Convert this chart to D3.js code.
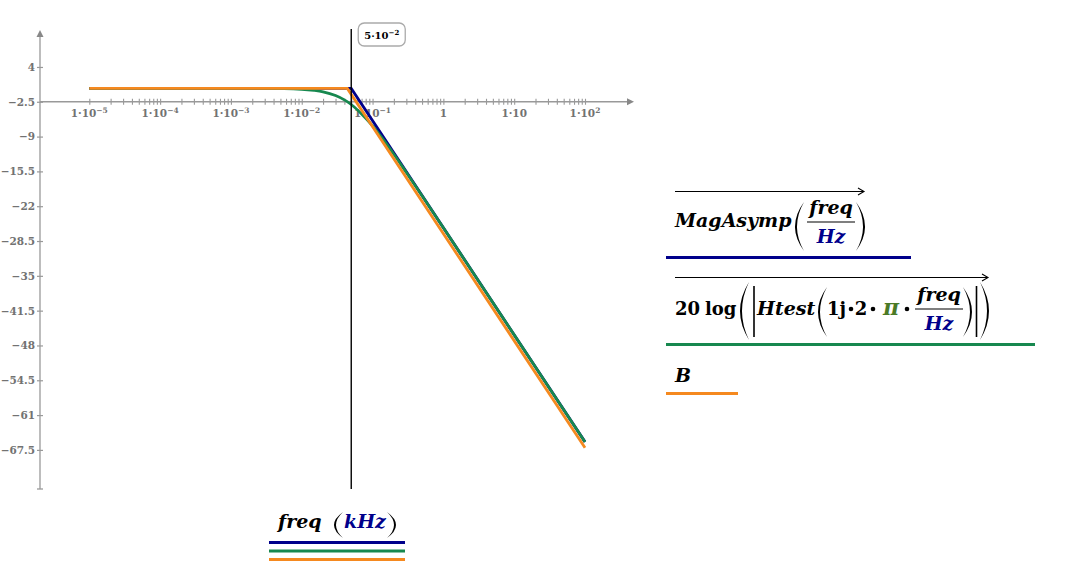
<!DOCTYPE html>
<html lang="en">
  <head>
    <meta charset="utf-8" />
    <script src="https://d3js.org/d3.v7.min.js"></script>
    <style>
      body { margin: 0; background: #fff; }
      .tick-lbl { font-family: "DejaVu Serif", serif; font-weight: bold; fill: #727272; }
      .math { font-family: "DejaVu Serif", serif; font-weight: bold; font-style: italic; }
      .upright { font-style: normal; }
    </style>
  </head>
  <body>
    <svg id="chart" width="1067" height="576"></svg>
    <script>
      // ---- data ----
      const yTicks = [4, -2.5, -9, -15.5, -22, -28.5, -35, -41.5, -48, -54.5, -61, -67.5];
      const xMajor = [1e-5, 1e-4, 1e-3, 1e-2, 1e-1, 1, 10, 100];
      const xMajorLabels = [["1·10", "−5"], ["1·10", "−4"], ["1·10", "−3"], ["1·10", "−2"],
                            ["1·10", "−1"], ["1", ""], ["1·10", ""], ["1·10", "2"]];
      const markerFreq = 0.05;

      // MagAsymp (blue)
      const asympFreq = [1e-5, 0.05, 100];
      const asympDb = [0, 0, -66.0];
      // 20 log|Htest| (green)
      const htestFreq = [1e-5, 1e-4, 1e-3, 3e-3, 0.01, 0.015, 0.02, 0.03, 0.04, 0.05, 0.07, 0.1,
                         0.15, 0.2, 0.3, 0.5, 0.7, 1, 2, 5, 10, 30, 100];
      const htestDb = [0, 0, -0.002, -0.016, -0.17, -0.38, -0.64, -1.34, -2.15, -3.01, -4.77, -6.99,
                       -10.0, -12.3, -15.7, -20.04, -22.95, -26.03, -32.04, -40.0, -46.02, -55.56, -66.02];
      // B (orange)
      const bFreq = [1e-5, 0.044, 100];
      const bDb = [0, 0, -67.1];

      const colBlue = "#00008b", colGreen = "#17884f", colOrange = "#f5891f", colPi = "#4b7a26";

      const svg = d3.select("svg#chart");
      const axisX0 = 40, axisXEnd = 634;
      const x = d3.scaleLog().domain([1e-5, 100]).range([89.3, 585]);
      const y = d3.scaleLinear().domain([-74.8, 10.9]).range([489, 30]);
      const axisY = y(-2.5);
      const axisCol = "#999";

      let axes = svg.append("g").attr("id", "axes");

      // y axis
      axes.append("line").attr("x1", axisX0).attr("x2", axisX0)
        .attr("y1", y.range()[1] + 6).attr("y2", y.range()[0])
        .attr("stroke", axisCol).attr("stroke-width", 1.3);
      axes.append("path")
        .attr("d", `M${axisX0},${y.range()[1]} L${axisX0 - 3.5},${y.range()[1] + 7} L${axisX0 + 3.5},${y.range()[1] + 7} Z`)
        .attr("fill", "#888");
      axes.append("line").attr("x1", axisX0 - 3).attr("x2", axisX0 + 3)
        .attr("y1", y.range()[0]).attr("y2", y.range()[0])
        .attr("stroke", axisCol).attr("stroke-width", 1.3);

      let leftAxis = d3.axisLeft(y).tickValues(yTicks).tickSize(3)
        .tickFormat(d => String(d).replace("-", "−"));
      let gy = axes.append("g").attr("transform", "translate(" + axisX0 + ",0)").call(leftAxis);
      gy.select(".domain").remove();
      gy.selectAll(".tick line").attr("x1", -3).attr("x2", 3).attr("stroke", axisCol).attr("stroke-width", 1.2);
      gy.selectAll(".tick text").attr("class", "tick-lbl").attr("x", -5)
        .style("font-size", "10.5px").attr("fill", null);

      // x axis
      axes.append("line").attr("x1", axisX0).attr("x2", axisXEnd - 6)
        .attr("y1", axisY).attr("y2", axisY)
        .attr("stroke", axisCol).attr("stroke-width", 1.3);
      axes.append("path")
        .attr("d", `M${axisXEnd},${axisY} L${axisXEnd - 7},${axisY - 3.5} L${axisXEnd - 7},${axisY + 3.5} Z`)
        .attr("fill", "#888");

      let allTicks = [];
      xMajor.forEach((d, i) => {
        allTicks.push(d);
        if (i < xMajor.length - 1) for (let k = 2; k <= 9; k++) allTicks.push(d * k);
      });
      let bottomAxis = d3.axisBottom(x).tickValues(allTicks).tickSize(3).tickFormat("");
      let gx = axes.append("g").attr("transform", "translate(0," + axisY + ")").call(bottomAxis);
      gx.select(".domain").remove();
      gx.selectAll(".tick line").attr("y1", -3).attr("y2", 3).attr("stroke", axisCol).attr("stroke-width", 1.1);
      gx.selectAll(".tick text").remove();

      axes.selectAll("text.xlbl")
        .data(xMajor)
        .join("text")
        .attr("class", "tick-lbl xlbl")
        .attr("x", d => x(d))
        .attr("y", axisY + 15)
        .attr("text-anchor", "middle")
        .style("font-size", "10.5px")
        .each(function (d, i) {
          const t = d3.select(this);
          t.append("tspan").text(xMajorLabels[i][0]);
          if (xMajorLabels[i][1]) {
            t.append("tspan").attr("dy", -4).style("font-size", "7.5px").text(xMajorLabels[i][1]);
          }
        });

      // ---- curves ----
      const line = d3.line().x(d => x(d[0])).y(d => y(d[1]));
      const lineSmooth = d3.line().x(d => x(d[0])).y(d => y(d[1])).curve(d3.curveMonotoneX);
      let plot = svg.append("g").attr("id", "curves");
      plot.append("path").datum(d3.zip(asympFreq, asympDb)).attr("d", line)
        .attr("fill", "none").attr("stroke", colBlue).attr("stroke-width", 2.8);
      plot.append("path").datum(d3.zip(htestFreq, htestDb)).attr("d", lineSmooth)
        .attr("fill", "none").attr("stroke", colGreen).attr("stroke-width", 2.8);
      plot.append("path").datum(d3.zip(bFreq, bDb)).attr("d", line)
        .attr("fill", "none").attr("stroke", colOrange).attr("stroke-width", 2.8);

      // marker
      const mx = x(markerFreq);
      svg.append("line").attr("x1", mx).attr("x2", mx).attr("y1", 29).attr("y2", y.range()[0])
        .attr("stroke", "#000").attr("stroke-width", 1.4);
      svg.append("rect").attr("x", mx + 7).attr("y", 23).attr("width", 47).attr("height", 23)
        .attr("rx", 6).attr("fill", "#fff").attr("stroke", "#aaa").attr("stroke-width", 1.3);
      let mt = svg.append("text").attr("x", mx + 30.5).attr("y", 39).attr("text-anchor", "middle")
        .style("font-family", "DejaVu Serif").style("font-weight", "bold").style("font-size", "10px");
      mt.append("tspan").text("5·10");
      mt.append("tspan").attr("dy", -4).style("font-size", "7px").text("−2");

      // ---- math legend helpers ----
      function txt(g, px, py, s, opts = {}) {
        return g.append("text").attr("class", "math" + (opts.upright ? " upright" : ""))
          .attr("x", px).attr("y", py).attr("text-anchor", opts.anchor || "start")
          .style("font-size", (opts.size || 19) + "px").style("fill", opts.color || "#000").text(s);
      }
      function paren(g, x0, top, bot, left) {
        const w = 9, t = 2, mid = (top + bot) / 2;
        let d;
        if (left) {
          d = `M${x0 + w},${top} Q${x0 - w},${mid} ${x0 + w},${bot} Q${x0 + 2 * t - w},${mid} ${x0 + w},${top} Z`;
        } else {
          d = `M${x0 - w},${top} Q${x0 + w},${mid} ${x0 - w},${bot} Q${x0 - 2 * t + w},${mid} ${x0 - w},${top} Z`;
        }
        g.append("path").attr("d", d).attr("fill", "#000");
      }
      function overArrow(g, x1, x2, yy) {
        g.append("line").attr("x1", x1).attr("x2", x2).attr("y1", yy).attr("y2", yy)
          .attr("stroke", "#000").attr("stroke-width", 1.1);
        g.append("path").attr("d", `M${x2 - 6},${yy - 3.5} L${x2},${yy} L${x2 - 6},${yy + 3.5}`)
          .attr("fill", "none").attr("stroke", "#000").attr("stroke-width", 1.1);
      }
      function bar(g, xx, y1, y2) {
        g.append("line").attr("x1", xx).attr("x2", xx).attr("y1", y1).attr("y2", y2)
          .attr("stroke", "#000").attr("stroke-width", 1.6);
      }
      function dot(g, cx, cy) {
        g.append("circle").attr("cx", cx).attr("cy", cy).attr("r", 2.3).attr("fill", "#000");
      }
      function frac(g, cx, yBar, w) {
        txt(g, cx, yBar - 8, "freq", { anchor: "middle" });
        g.append("line").attr("x1", cx - w / 2).attr("x2", cx + w / 2).attr("y1", yBar).attr("y2", yBar)
          .attr("stroke", "#000").attr("stroke-width", 1.2);
        txt(g, cx, yBar + 21, "Hz", { anchor: "middle", color: colBlue });
      }
      function underline(g, x1, x2, yy, col) {
        g.append("line").attr("x1", x1).attr("x2", x2).attr("y1", yy).attr("y2", yy)
          .attr("stroke", col).attr("stroke-width", 2.8);
      }

      let legend = svg.append("g").attr("id", "legend");
      // MagAsymp(freq/Hz)
      overArrow(legend, 675, 864, 191.5);
      txt(legend, 675, 227, "MagAsymp");
      paren(legend, 795, 202, 251, true);
      frac(legend, 831, 222, 48);
      paren(legend, 865, 202, 251, false);
      underline(legend, 666, 911, 257.5, colBlue);

      // 20 log(|Htest(1j·2·π·freq/Hz)|)
      overArrow(legend, 675, 988, 277.5);
      txt(legend, 675, 315, "20", { upright: true, size: 18 });
      txt(legend, 705, 315, "log", { upright: true, size: 18 });
      paren(legend, 740, 282, 340, true);
      bar(legend, 754, 286, 337);
      txt(legend, 757, 315, "Htest");
      paren(legend, 818, 287, 337, true);
      txt(legend, 827, 315, "1j", { upright: true, size: 18 });
      dot(legend, 851, 309);
      txt(legend, 861, 315, "2", { upright: true, anchor: "middle", size: 18 });
      dot(legend, 873, 309);
      txt(legend, 891, 315, "π", { anchor: "middle", color: colPi, size: 22 });
      dot(legend, 907, 309);
      frac(legend, 939, 309, 48);
      paren(legend, 972, 287, 337, false);
      bar(legend, 976.5, 286, 337);
      paren(legend, 989, 282, 340, false);
      underline(legend, 666, 1035, 344.5, colGreen);

      // B
      txt(legend, 675, 382, "B");
      underline(legend, 666, 738, 393.5, colOrange);

      // x label
      let xl = svg.append("g").attr("id", "xlabel");
      txt(xl, 278, 528, "freq");
      paren(xl, 334, 512, 538, true);
      txt(xl, 344, 528, "kHz", { color: colBlue });
      paren(xl, 396, 512, 538, false);
      underline(xl, 269, 405, 542.5, colBlue);
      underline(xl, 269, 405, 551, colGreen);
      underline(xl, 269, 405, 559.5, colOrange);
    </script>
  </body>
</html>
